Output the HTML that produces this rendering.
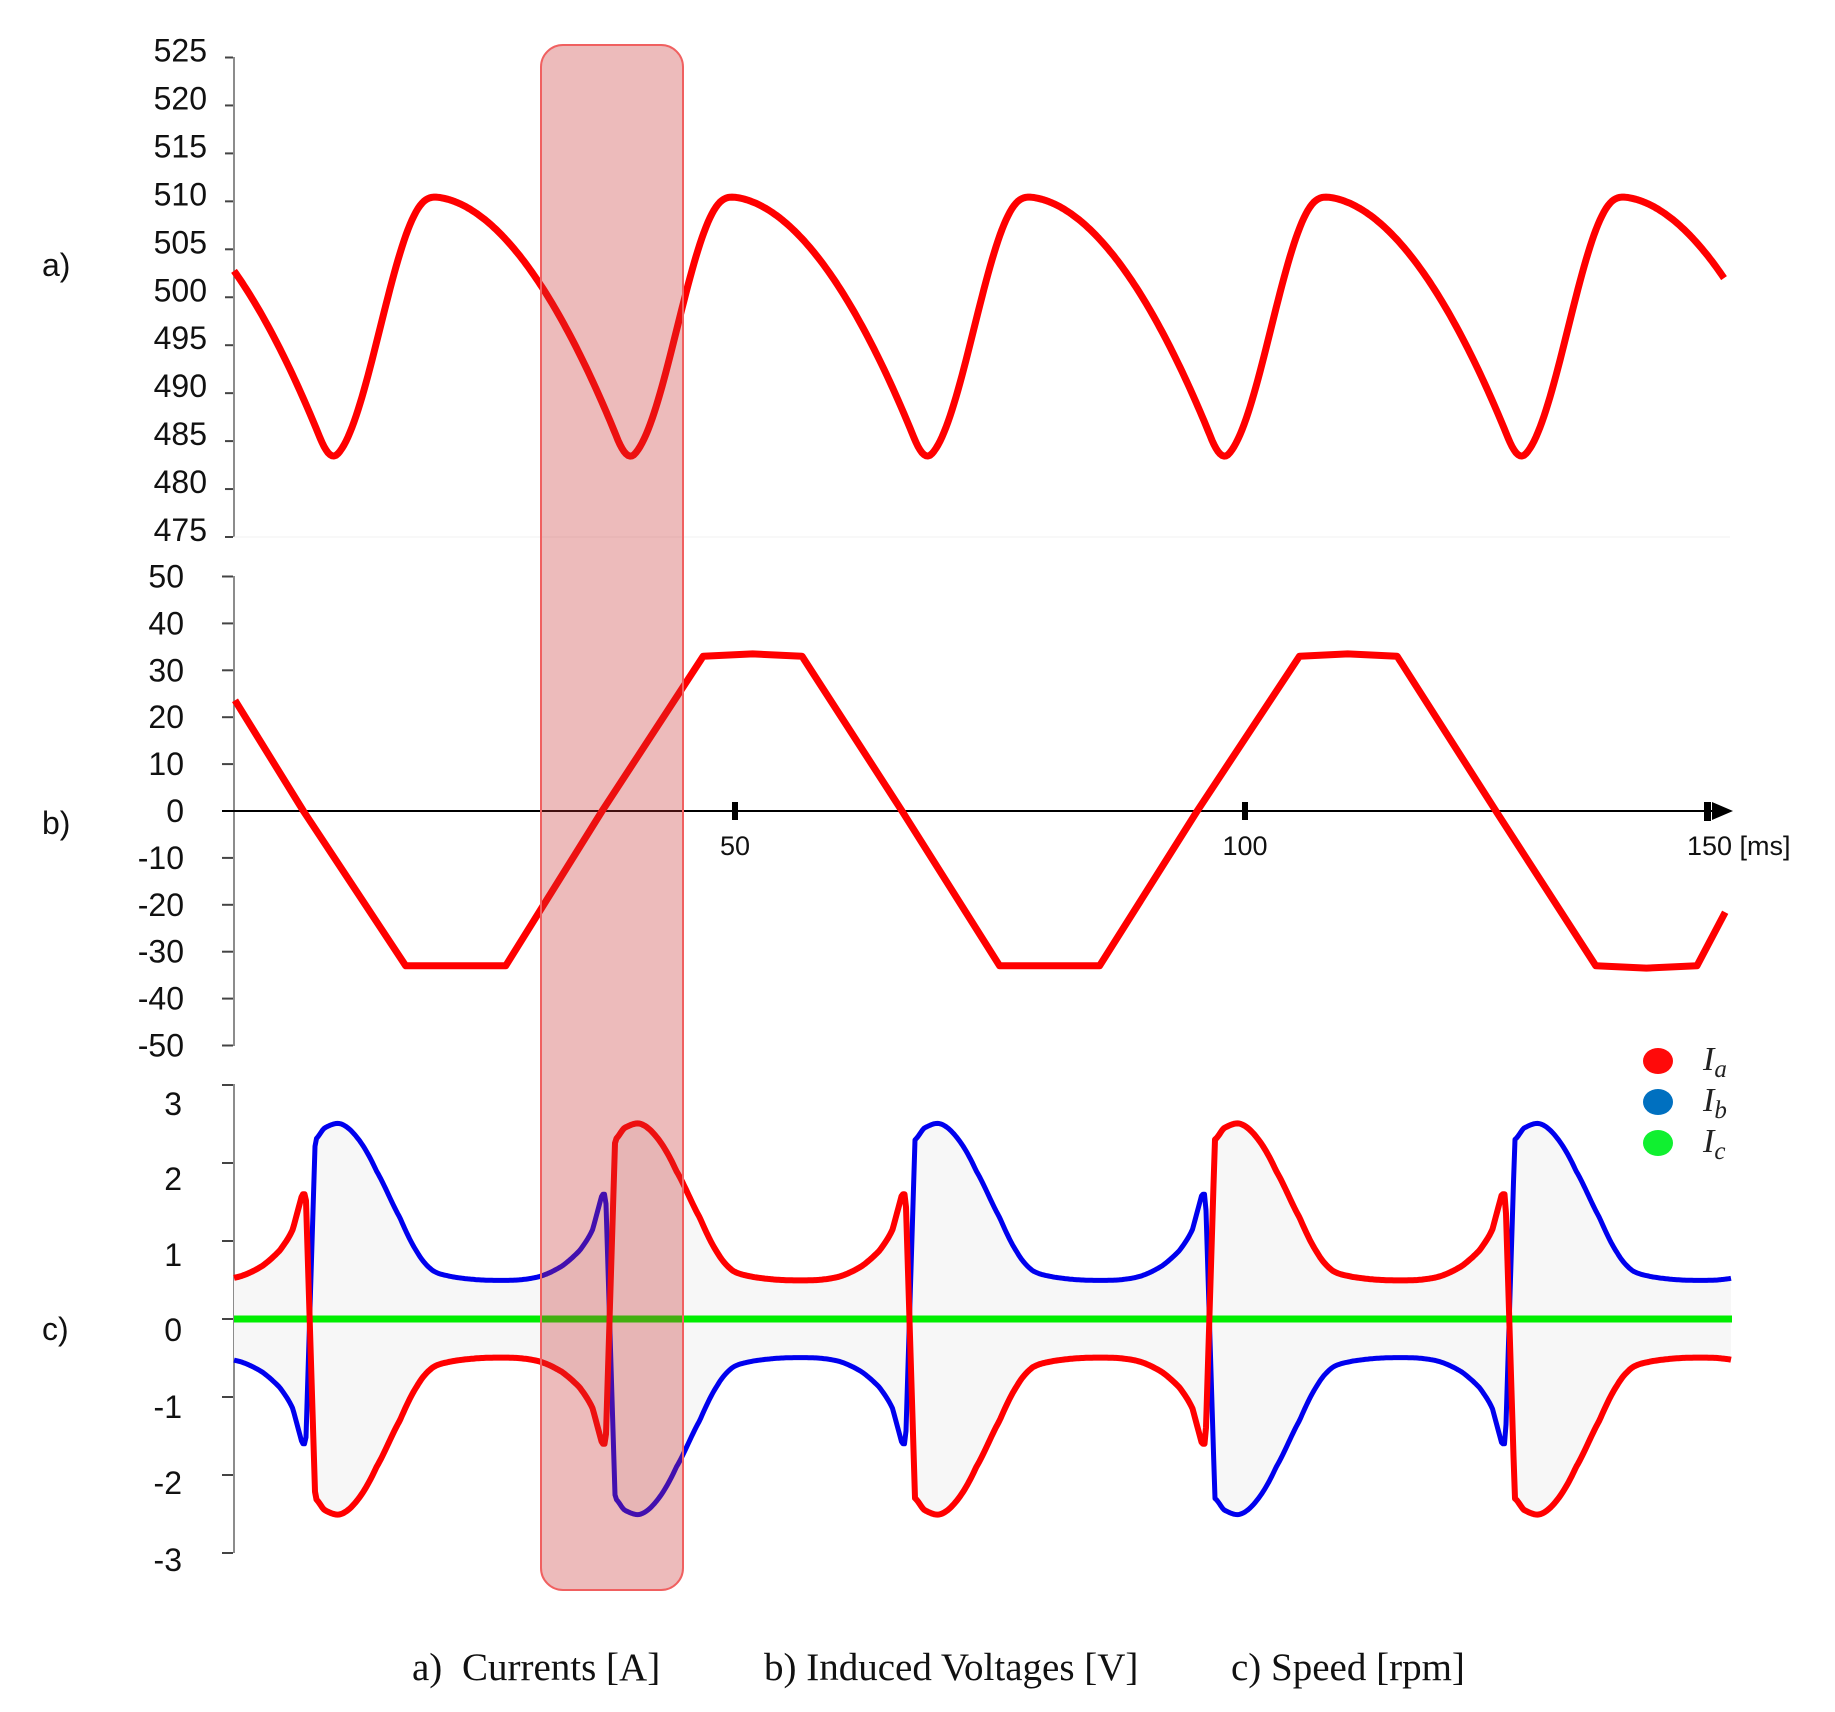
<!DOCTYPE html>
<html><head><meta charset="utf-8"><style>
html,body{margin:0;padding:0;background:#fff}
svg{display:block}
.lab{font-family:"Liberation Sans",sans-serif;font-size:32px;fill:#111}
.cap{font-family:"Liberation Serif",serif;font-size:39px;fill:#111}
</style></head><body>
<svg id="s" width="1835" height="1712" viewBox="0 0 1835 1712" xmlns="http://www.w3.org/2000/svg">
<g id="g"></g>
</svg>
<script>
var S='',g=document.getElementById('g');
function add(s){S+=s;}
// panel a
var aY=function(v){return 57.5+(525-v)*9.59;};
add('<line x1="234" y1="57" x2="234" y2="537" stroke="#666" stroke-width="1.5"/>');
add('<line x1="234" y1="537" x2="1730" y2="537" stroke="#f2f2f2" stroke-width="1"/>');
var al=[525,520,515,510,505,500,495,490,485,480,475];
al.forEach(function(v){var y=aY(v);add('<line x1="225" y1="'+y+'" x2="233" y2="'+y+'" stroke="#444" stroke-width="2"/>');
add('<text class="lab" x="207" y="'+(y+4)+'" text-anchor="end">'+v+'</text>');});
function av0(x){var P=297,t=((x-329)%P+P)%P;
 if(t<102)return 483+27.5*(1-Math.cos(Math.PI*t/102))/2;
 var u=(t-102)/195;return 510.5-27.5*Math.pow(u,1.9);}
function av(x){var s=0,n=0;for(var d=-8;d<=8;d+=2){s+=av0(x+d);n++;}return s/n;}
var p='';for(var x=234;x<=1725;x+=2){p+=(x==234?'M':'L')+x+','+aY(av(x)).toFixed(1);}
add('<path d="'+p+'" fill="none" stroke="#ff0000" stroke-width="7" stroke-linejoin="round"/>');
// panel b
var bY=function(v){return 811-v*4.69;};
add('<line x1="234" y1="576" x2="234" y2="1046" stroke="#666" stroke-width="1.5"/>');
[50,40,30,20,10,0,-10,-20,-30,-40,-50].forEach(function(v){var y=bY(v);
 add('<line x1="222" y1="'+y+'" x2="233" y2="'+y+'" stroke="#444" stroke-width="2"/>');
 add('<text class="lab" x="184" y="'+(y+11)+'" text-anchor="end">'+v+'</text>');});
add('<line x1="222" y1="811" x2="1715" y2="811" stroke="#000" stroke-width="2"/>');
add('<polygon points="1712,802 1733,811 1712,820" fill="#000"/>');
[[735,'50'],[1245,'100']].forEach(function(a){add('<rect x="'+(a[0]-3)+'" y="802" width="6" height="18" fill="#000"/>');
 add('<text x="'+a[0]+'" y="855" text-anchor="middle" style="font-family:Liberation Sans,sans-serif;font-size:27px" fill="#111">'+a[1]+'</text>');});
add('<rect x="1704" y="802" width="7" height="19" fill="#000"/>');
add('<text x="1687" y="855" style="font-family:Liberation Sans,sans-serif;font-size:27px" fill="#111">150 [ms]</text>');
var bd=[[201,23.6],[258,0],[345,-33],[430,-33],[512,0],[598,33],[640,33.5],[682,33],[767,0],[850,-33],[935,-33],[1018,0],[1105,33],[1146,33.5],[1188,33],[1272,0],[1357,-33],[1400,-33.5],[1443,-33],[1467,-21.6]];
p='';bd.forEach(function(d,i){var x=d[0]*1.176;if(i==0)x=235;p+=(i?'L':'M')+x.toFixed(1)+','+bY(d[1]).toFixed(1);});
add('<path d="'+p+'" fill="none" stroke="#ff0000" stroke-width="7" stroke-linejoin="round"/>');
// panel c
var cY=function(v){return 1319-v*78;};
add('<line x1="234" y1="1084" x2="234" y2="1553" stroke="#666" stroke-width="1.5"/>');
var cl=[[3,1105],[2,1180],[1,1256],[0,1331],[-1,1408],[-2,1484],[-3,1561]];
cl.forEach(function(c){var y=cY(c[0]);add('<line x1="222" y1="'+y+'" x2="233" y2="'+y+'" stroke="#444" stroke-width="2"/>');
 add('<text class="lab" x="182" y="'+(c[1]+10)+'" text-anchor="end">'+c[0]+'</text>');});
var m=[[0,-1.6],[8,2.3],[16,2.45],[30,2.5],[45,2.3],[60,1.9],[80,1.3],[95,0.85],[108,0.62],[125,0.54],[150,0.5],[180,0.5],[200,0.55],[218,0.68],[233,0.88],[244,1.15],[252,1.6],[255,1.6]];
function cr(p0,p1,p2,p3,f){return 0.5*((2*p1)+(-p0+p2)*f+(2*p0-5*p1+4*p2-p3)*f*f+(-p0+3*p1-3*p2+p3)*f*f*f);}
function mv(t){for(var i=1;i<m.length;i++){if(t<=m[i][0]){var a=m[i-1],b=m[i];var f=(t-a[0])/(b[0]-a[0]);
 if(i==1||i>=m.length-2)return a[1]+f*(b[1]-a[1]);
 var p0=m[i-2][1],p3=m[i+1][1];if(i==2)p0=a[1];return cr(p0,a[1],b[1],p3,f);}}return 1.6;}
var J0=305.8,Pc=299.9,pts=[];
for(var x=234;x<=1732;x+=1.5){var k=Math.floor((x-J0)/Pc);var tau=(x-J0-k*Pc)/1.176;var s=(Math.abs(k)%2===0)?-1:1;
 pts.push([x,s*mv(tau)]);}
var rp='',bp='',bpr='';
pts.forEach(function(q,i){rp+=(i?'L':'M')+q[0].toFixed(1)+','+cY(q[1]).toFixed(1);bp+=(i?'L':'M')+q[0].toFixed(1)+','+cY(-q[1]).toFixed(1);});
for(var i=pts.length-1;i>=0;i--){bpr+='L'+pts[i][0].toFixed(1)+','+cY(-pts[i][1]).toFixed(1);}
add('<path d="'+rp+bpr+'Z" fill="#f7f7f7"/>');
add('<line x1="234" y1="1319" x2="1732" y2="1319" stroke="#00ee00" stroke-width="7"/>');
add('<path d="'+bp+'" fill="none" stroke="#0000ee" stroke-width="5" stroke-linejoin="round"/>');
add('<path d="'+rp+'" fill="none" stroke="#ff0000" stroke-width="6" stroke-linejoin="round"/>');
// highlight
add('<rect x="541" y="45" width="142" height="1545" rx="22" ry="22" fill="rgba(200,50,50,0.33)" stroke="#f06060" stroke-width="2"/>');
// panel labels
add('<text class="lab" x="42" y="276">a)</text><text class="lab" x="42" y="834">b)</text><text class="lab" x="42" y="1340">c)</text>');
// legend
[['#ff0a0a',1061,'a'],['#0070c0',1102,'b'],['#10f030',1143,'c']].forEach(function(l){
 add('<ellipse cx="1658" cy="'+l[1]+'" rx="15" ry="13" fill="'+l[0]+'"/>');
 add('<text x="1703" y="'+(l[1]+9)+'" style="font-family:Liberation Serif,serif;font-style:italic;font-size:34px" fill="#222">I<tspan font-size="25" dy="7">'+l[2]+'</tspan></text>');});
// caption
add('<text class="cap" x="412" y="1680">a)<tspan x="462">Currents [A]</tspan></text>');
add('<text class="cap" x="764" y="1680">b) Induced Voltages [V]</text>');
add('<text class="cap" x="1231" y="1680">c) Speed [rpm]</text>');
g.innerHTML=S;
</script>
</body></html>
